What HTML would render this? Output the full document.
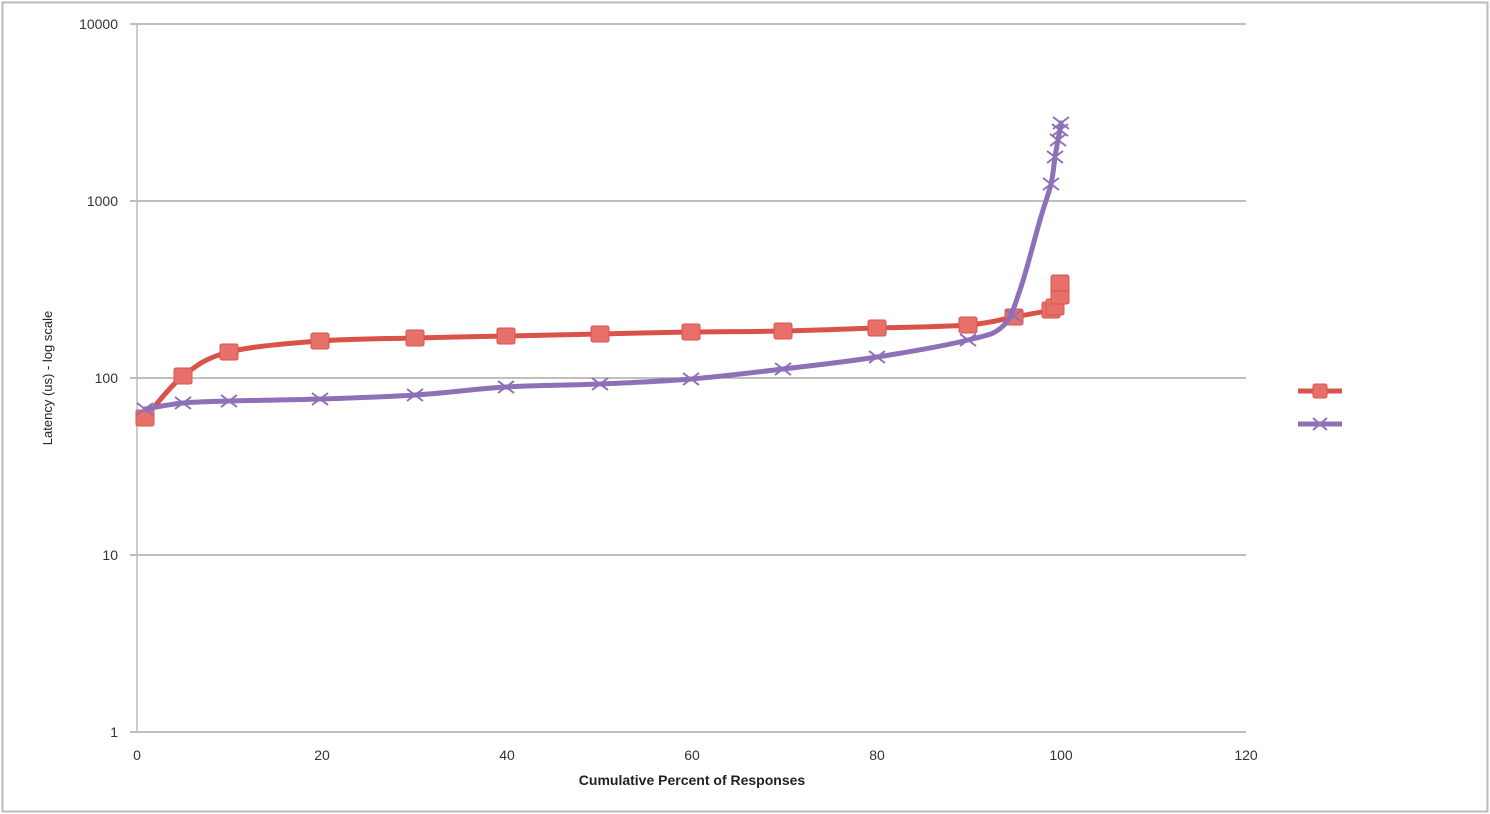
<!DOCTYPE html>
<html><head><meta charset="utf-8"><style>
html,body{margin:0;padding:0;background:#fff;}
svg{display:block;font-family:"Liberation Sans",sans-serif;}
</style></head><body>
<svg id="s" width="1490" height="814" viewBox="0 0 1490 814">
<rect x="2.5" y="2.5" width="1485" height="809" fill="#fff" stroke="#bbb" stroke-width="2"/>
<g stroke="#999" stroke-width="1.3">
<line x1="130" y1="24" x2="1246" y2="24"/>
<line x1="130" y1="201" x2="1246" y2="201"/>
<line x1="130" y1="378" x2="1246" y2="378"/>
<line x1="130" y1="555" x2="1246" y2="555"/>
<line x1="130" y1="732" x2="1246" y2="732"/>
</g>
<line x1="137" y1="24" x2="137" y2="732" stroke="#bbb" stroke-width="1.5"/>
<g font-size="14" fill="#333" text-anchor="end">
<text x="118" y="29">10000</text><text x="118" y="206">1000</text><text x="118" y="383">100</text><text x="118" y="560">10</text><text x="118" y="737">1</text>
</g>
<g font-size="14" fill="#333" text-anchor="middle">
<text x="137" y="760">0</text><text x="322" y="760">20</text><text x="507" y="760">40</text><text x="692" y="760">60</text><text x="877" y="760">80</text><text x="1061" y="760">100</text><text x="1246" y="760">120</text>
</g>
<text x="692" y="785" font-size="14" font-weight="bold" fill="#222" text-anchor="middle">Cumulative Percent of Responses</text>
<text transform="translate(52,378) rotate(-90)" font-size="13" fill="#222" text-anchor="middle">Latency (us) - log scale</text>
<path id="rp" fill="none" stroke="#d9534a" stroke-width="5" stroke-linecap="round" stroke-linejoin="round"/>
<g id="mkr"></g>
<path id="pp" fill="none" stroke="#8e70b8" stroke-width="5" stroke-linecap="round" stroke-linejoin="round"/>
<g id="mk"></g>
<line x1="1298" y1="391" x2="1342" y2="391" stroke="#d9534a" stroke-width="5"/>
<rect x="1313" y="384" width="14" height="14" rx="2" fill="#e8706a" stroke="#d9534a"/>
<line x1="1298" y1="424" x2="1342" y2="424" stroke="#8e70b8" stroke-width="5"/>
<path d="M1313 418 L1327 430 M1313 430 L1327 418" stroke="#8e70b8" stroke-width="2"/>
</svg>
<script>
var R=[[145,418],[183,376],[229,352],[320,341],[415,338],[506,336],[600,334],[691,332],[783,331],[877,328],[968,325],[1014,317],[1051,310],[1055,307],[1060,296],[1060,283]];
var P=[[145,409],[183,403],[229,401],[320,399],[415,395],[506,387],[600,384],[691,379],[783,369],[877,357],[968,340],[1003,326],[1020,290],[1040,220],[1051,184],[1055,157],[1058,140],[1060,130],[1061,123]];
var PM=[[145,409],[183,403],[229,401],[320,399],[415,395],[506,387],[600,384],[691,379],[783,369],[877,357],[968,340],[1014,316],[1051,184],[1055,157],[1058,140],[1060,130],[1061,123]];
function cr(p){var d="M"+p[0][0]+" "+p[0][1];for(var i=0;i<p.length-1;i++){var a=p[i-1]||p[i],b=p[i],c=p[i+1],e=p[i+2]||c;d+=" C"+(b[0]+(c[0]-a[0])/6)+" "+(b[1]+(c[1]-a[1])/6)+" "+(c[0]-(e[0]-b[0])/6)+" "+(c[1]-(e[1]-b[1])/6)+" "+c[0]+" "+c[1];}return d;}
document.getElementById('rp').setAttribute('d',cr(R));
document.getElementById('pp').setAttribute('d',cr(P));
var h="";
PM.forEach(function(q){h+='<path d="M'+(q[0]-8)+' '+(q[1]-6)+' L'+(q[0]+8)+' '+(q[1]+6)+' M'+(q[0]-8)+' '+(q[1]+6)+' L'+(q[0]+8)+' '+(q[1]-6)+'" stroke="#8e70b8" stroke-width="2"/>';});
document.getElementById('mk').innerHTML=h;
var h2="";
R.forEach(function(q){h2+='<rect x="'+(q[0]-9)+'" y="'+(q[1]-8)+'" width="18" height="16" rx="2" fill="#e8706a" stroke="#d9534a" stroke-width="1"/>';});
document.getElementById('mkr').innerHTML=h2;
</script>
</body></html>
